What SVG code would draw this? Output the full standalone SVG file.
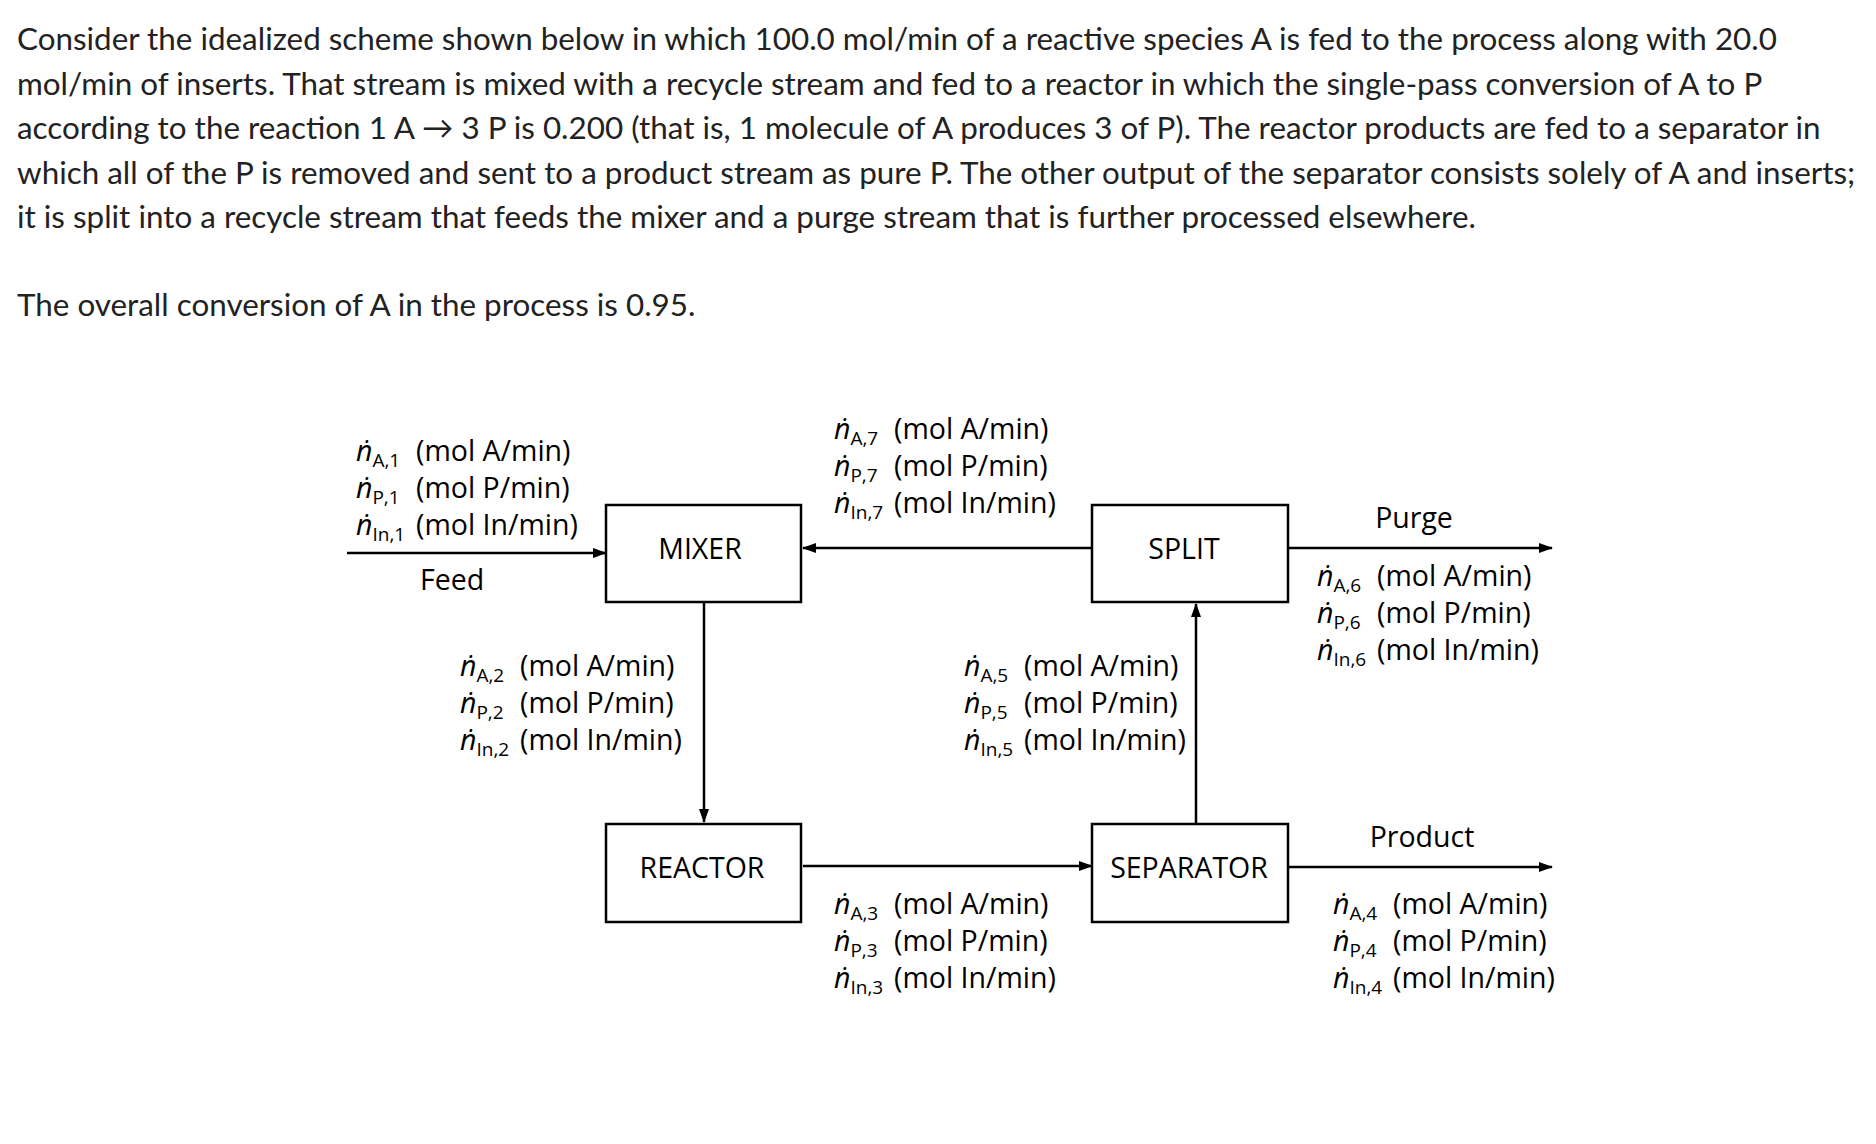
<svg xmlns="http://www.w3.org/2000/svg" width="1876" height="1144" viewBox="0 0 1876 1144">
<style>
.p{font-family:Lato,"Open Sans",sans-serif;font-size:31.4px;fill:#222}
.l{font-family:"Open Sans","Liberation Sans",sans-serif;font-size:28.5px;fill:#000}
.n{font-style:italic}
.s{font-size:19px}
.b{fill:#fff;stroke:#000;stroke-width:2.5}
.c{stroke:#000;stroke-width:2.5;fill:none}
.ct{text-anchor:middle}
</style>
<defs><marker id="a" markerWidth="14" markerHeight="10" refX="13" refY="5" orient="auto" markerUnits="userSpaceOnUse"><path d="M0,0L14,5L0,10z"/></marker></defs>
<rect width="1876" height="1144" fill="#fff"/>
<g id="text">
<text class="p" x="17" y="50">Consider the idealized scheme shown below in which 100.0 mol/min of a reactive species A is fed to the process along with 20.0</text>
<text class="p" x="17" y="95">mol/min of inserts. That stream is mixed with a recycle stream and fed to a reactor in which the single-pass conversion of A to P</text>
<text class="p" x="17" y="139">according to the reaction 1 A → 3 P is 0.200 (that is, 1 molecule of A produces 3 of P). The reactor products are fed to a separator in</text>
<text class="p" x="17" y="184">which all of the P is removed and sent to a product stream as pure P. The other output of the separator consists solely of A and inserts;</text>
<text class="p" x="17" y="228">it is split into a recycle stream that feeds the mixer and a purge stream that is further processed elsewhere.</text>
<text class="p" x="17" y="316">The overall conversion of A in the process is 0.95.</text>
</g>
<g id="connectors">
<line class="c" x1="347" y1="553" x2="606" y2="553" marker-end="url(#a)"/>
<line class="c" x1="1092" y1="548" x2="803" y2="548" marker-end="url(#a)"/>
<line class="c" x1="704" y1="602" x2="704" y2="822" marker-end="url(#a)"/>
<line class="c" x1="803" y1="866" x2="1092" y2="866" marker-end="url(#a)"/>
<line class="c" x1="1196" y1="824" x2="1196" y2="604" marker-end="url(#a)"/>
<line class="c" x1="1288" y1="548" x2="1552" y2="548" marker-end="url(#a)"/>
<line class="c" x1="1288" y1="867" x2="1552" y2="867" marker-end="url(#a)"/>
</g>
<g id="mixer"><rect class="b" x="606" y="505" width="195" height="97"/><text class="l ct" x="700" y="559">MIXER</text></g>
<g id="split"><rect class="b" x="1092" y="505" width="196" height="97"/><text class="l ct" x="1184" y="559">SPLIT</text></g>
<g id="reactor"><rect class="b" x="606" y="824" width="195" height="98"/><text class="l ct" x="702" y="878">REACTOR</text></g>
<g id="separator"><rect class="b" x="1092" y="824" width="196" height="98"/><text class="l ct" x="1189" y="878">SEPARATOR</text></g>
<g id="labels" class="l">
<text x="420" y="590">Feed</text>
<text class="ct" x="1414" y="528">Purge</text>
<text class="ct" x="1422" y="847">Product</text>
</g>
<g id="s1" class="l">
<text x="356" y="461"><tspan class="n">ṅ</tspan><tspan class="s" dy="6">A,1</tspan></text><text x="416" y="461">(mol A/min)</text>
<text x="356" y="498"><tspan class="n">ṅ</tspan><tspan class="s" dy="6">P,1</tspan></text><text x="416" y="498">(mol P/min)</text>
<text x="356" y="535"><tspan class="n">ṅ</tspan><tspan class="s" dy="6">In,1</tspan></text><text x="416" y="535">(mol In/min)</text>
</g>
<g id="s7" class="l">
<text x="834" y="439"><tspan class="n">ṅ</tspan><tspan class="s" dy="6">A,7</tspan></text><text x="894" y="439">(mol A/min)</text>
<text x="834" y="476"><tspan class="n">ṅ</tspan><tspan class="s" dy="6">P,7</tspan></text><text x="894" y="476">(mol P/min)</text>
<text x="834" y="513"><tspan class="n">ṅ</tspan><tspan class="s" dy="6">In,7</tspan></text><text x="894" y="513">(mol In/min)</text>
</g>
<g id="s2" class="l">
<text x="460" y="676"><tspan class="n">ṅ</tspan><tspan class="s" dy="6">A,2</tspan></text><text x="520" y="676">(mol A/min)</text>
<text x="460" y="713"><tspan class="n">ṅ</tspan><tspan class="s" dy="6">P,2</tspan></text><text x="520" y="713">(mol P/min)</text>
<text x="460" y="750"><tspan class="n">ṅ</tspan><tspan class="s" dy="6">In,2</tspan></text><text x="520" y="750">(mol In/min)</text>
</g>
<g id="s5" class="l">
<text x="964" y="676"><tspan class="n">ṅ</tspan><tspan class="s" dy="6">A,5</tspan></text><text x="1024" y="676">(mol A/min)</text>
<text x="964" y="713"><tspan class="n">ṅ</tspan><tspan class="s" dy="6">P,5</tspan></text><text x="1024" y="713">(mol P/min)</text>
<text x="964" y="750"><tspan class="n">ṅ</tspan><tspan class="s" dy="6">In,5</tspan></text><text x="1024" y="750">(mol In/min)</text>
</g>
<g id="s6" class="l">
<text x="1317" y="586"><tspan class="n">ṅ</tspan><tspan class="s" dy="6">A,6</tspan></text><text x="1377" y="586">(mol A/min)</text>
<text x="1317" y="623"><tspan class="n">ṅ</tspan><tspan class="s" dy="6">P,6</tspan></text><text x="1377" y="623">(mol P/min)</text>
<text x="1317" y="660"><tspan class="n">ṅ</tspan><tspan class="s" dy="6">In,6</tspan></text><text x="1377" y="660">(mol In/min)</text>
</g>
<g id="s3" class="l">
<text x="834" y="914"><tspan class="n">ṅ</tspan><tspan class="s" dy="6">A,3</tspan></text><text x="894" y="914">(mol A/min)</text>
<text x="834" y="951"><tspan class="n">ṅ</tspan><tspan class="s" dy="6">P,3</tspan></text><text x="894" y="951">(mol P/min)</text>
<text x="834" y="988"><tspan class="n">ṅ</tspan><tspan class="s" dy="6">In,3</tspan></text><text x="894" y="988">(mol In/min)</text>
</g>
<g id="s4" class="l">
<text x="1333" y="914"><tspan class="n">ṅ</tspan><tspan class="s" dy="6">A,4</tspan></text><text x="1393" y="914">(mol A/min)</text>
<text x="1333" y="951"><tspan class="n">ṅ</tspan><tspan class="s" dy="6">P,4</tspan></text><text x="1393" y="951">(mol P/min)</text>
<text x="1333" y="988"><tspan class="n">ṅ</tspan><tspan class="s" dy="6">In,4</tspan></text><text x="1393" y="988">(mol In/min)</text>
</g>
</svg>
